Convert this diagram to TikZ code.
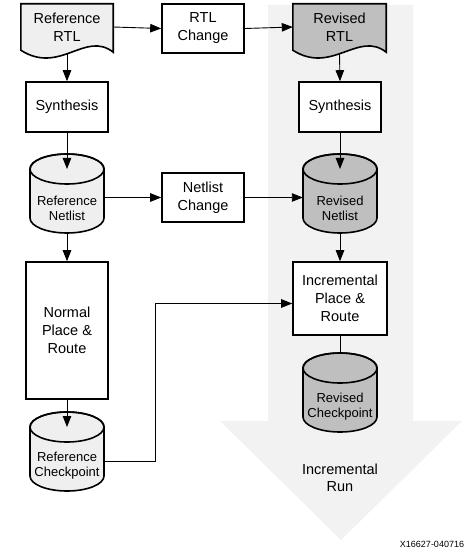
\documentclass[tikz,border=0pt]{standalone}
\usepackage{fontspec}
\setmainfont{Liberation Sans}
\usetikzlibrary{arrows.meta,backgrounds}
\definecolor{bgarrow}{HTML}{F2F2F2}
\definecolor{reffill}{HTML}{EFEFEF}
\definecolor{revfill}{HTML}{BFBFBF}
% cylinder: name, x, y of top ellipse, fill, text
\newcommand{\drum}[5]{%
  \filldraw[outline,fill=#4] (#2-37,#3) -- (#2-37,#3-49)
    arc[start angle=180,end angle=360,x radius=37,y radius=15] -- (#2+37,#3)
    arc[start angle=0,end angle=180,x radius=37,y radius=15] -- cycle;
  \draw[outline] (#2,#3) ellipse[x radius=37,y radius=15];
  \coordinate (#1-in) at (#2,#3);
  \coordinate (#1-top) at (#2,#3+15);
  \coordinate (#1-out) at (#2,#3-64);
  \node[drumlabel] (#1) at (#2,#3-39) {#5};}
% document sheet round a node: name, fill
\newcommand{\docu}[2]{%
  \filldraw[outline,fill=#2] (#1.north west) -- (#1.north east) -- ([yshift=-2pt]#1.south east)
    .. controls +(-28,22) and +(39,-25) .. (#1.south west) -- cycle;}
\begin{document}
\begin{tikzpicture}[x=1pt,y=1pt,
    outline/.style={line width=1.6pt},
    box/.style={draw,outline,fill=white,inner sep=0pt,align=center,font=\fontsize{14.5}{18}\selectfont},
    doc/.style={inner sep=0pt,align=center,font=\fontsize{14.5}{18}\selectfont},
    drumlabel/.style={inner sep=0pt,minimum width=74pt,align=center,font=\fontsize{13}{15}\selectfont},
    flow/.style={line width=0.9pt,-{Triangle[length=11pt,width=8.5pt]}}]
  \useasboundingbox (0,0) rectangle (474,-553);
  \draw
    (67,-27) node[doc,minimum width=92pt,minimum height=46pt] (refrtl){Reference\\RTL}
    (339.5,-27) node[doc,minimum width=93pt,minimum height=46pt] (revrtl){Revised\\RTL}
    (203,-28.5) node[box,minimum width=82pt,minimum height=49pt] (rtlchg){RTL\\Change}
    (67,-107) node[box,minimum width=82pt,minimum height=50pt] (syn1){Synthesis}
    (340,-107) node[box,minimum width=82pt,minimum height=50pt] (syn2){Synthesis}
    (203,-197.5) node[box,minimum width=82pt,minimum height=49pt] (netchg){Netlist\\Change}
    (67,-330.5) node[box,minimum width=82pt,minimum height=137pt] (npr){Normal\\Place \&\\Route}
    (340,-298.5) node[box,minimum width=94pt,minimum height=73pt] (ipr){Incremental\\Place \&\\Route};
  \begin{scope}[on background layer]
    % big arrow behind the incremental run
    \fill[bgarrow] (268,-5) -- (413,-5) -- (413,-421) -- (462,-421) -- (341,-540)
      -- (220,-421) -- (268,-421) -- cycle;
    \draw[flow] ([yshift=-4pt]refrtl.south) to (syn1.north);
    \draw[flow] ([yshift=-4pt]revrtl.south) to (syn2.north);
    \docu{refrtl}{reffill}
    \docu{revrtl}{revfill}
  \end{scope}
  \drum{refnet}{67}{-169}{reffill}{Reference\\Netlist}
  \drum{revnet}{340}{-169}{revfill}{Revised\\Netlist}
  \drum{refcp}{67}{-427}{reffill}{Reference\\Checkpoint}
  \drum{revcp}{340}{-368}{revfill}{Revised\\Checkpoint}
  \begin{scope}[flow]
    \draw (refrtl.east) to (rtlchg.west);
    \draw (rtlchg.east) to (revrtl.west);
    \draw (syn1.south) to (refnet-in);
    \draw (syn2.south) to (revnet-in);
    \draw (netchg.west -| refnet.east) to (netchg.west);
    \draw (netchg.east) to (netchg.east -| revnet.west);
    \draw (refnet-out) to (npr.north);
    \draw (revnet-out) to (ipr.north);
    \draw (npr.south) to (refcp-in);
    \draw ([yshift=5pt]refcp.east) -- ++(51,0) |- ([yshift=-5pt]ipr.west);
  \end{scope}
  \draw[line width=0.9pt] (ipr.south) -- (revcp-top);
  \draw
    (340,-478) node[align=center,font=\fontsize{14.5}{17}\selectfont] (run){Incremental\\Run}
    (432,-544) node[font=\fontsize{9}{10}\selectfont] (tag){X16627-040716};
\end{tikzpicture}
\end{document}
